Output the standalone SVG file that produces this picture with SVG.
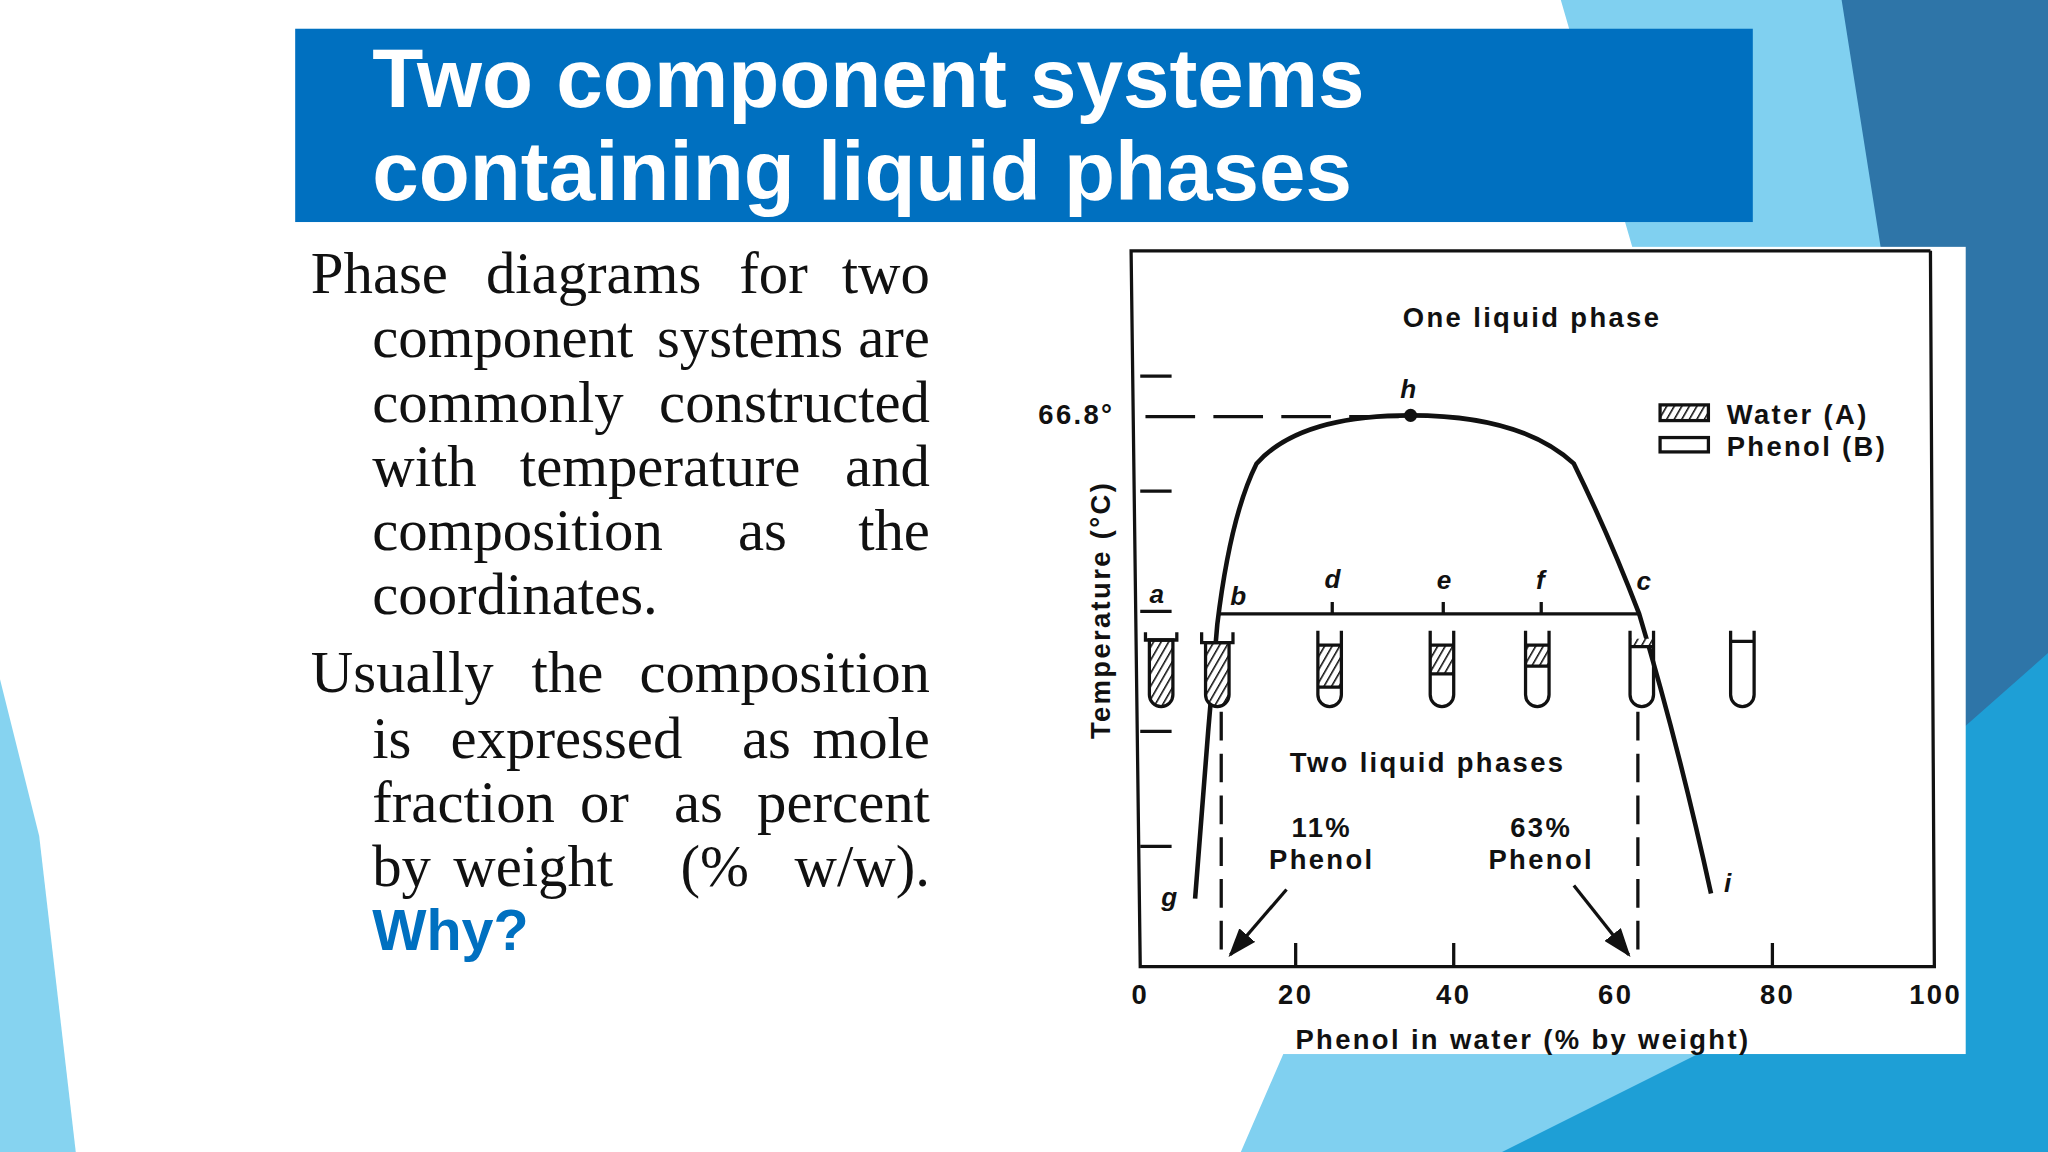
<svg xmlns="http://www.w3.org/2000/svg" width="2048" height="1152" viewBox="0 0 2048 1152">
<defs>
<pattern id="hatch" patternUnits="userSpaceOnUse" width="5" height="5" patternTransform="rotate(30)">
<rect width="5" height="5" fill="#fff"/><line x1="0" y1="0" x2="0" y2="5" stroke="#111" stroke-width="2.4"/>
</pattern>
<marker id="ah" viewBox="0 0 10 10" refX="9" refY="5" markerWidth="22" markerHeight="16" orient="auto" markerUnits="userSpaceOnUse" preserveAspectRatio="none">
<path d="M0,0 L10,5 L0,10 z" fill="#111"/>
</marker>
<style>
.body{font-family:"Liberation Serif",serif;font-size:45px;fill:#111}
.lab{font-family:"Liberation Sans",Arial,sans-serif;font-weight:bold;font-size:21px;fill:#111;letter-spacing:1.8px}
.it{font-family:"Liberation Sans",Arial,sans-serif;font-weight:bold;font-style:italic;font-size:20px;fill:#111}
.ln{stroke:#111;stroke-width:2.5;fill:none}
.tube{stroke:#111;stroke-width:2.5}
</style>
</defs>
<g transform="scale(1.30612)">
<rect width="1568" height="882" fill="#fff"/>
<g id="background">
<polygon points="1195,0 1568,0 1568,882 950,882 1250,190" fill="#80D0F0"/>
<polygon points="1410,0 1568,0 1568,560 1480,620 1440,190" fill="#2E75A8"/>
<polygon points="1500,560 1568,500 1568,882 1150,882 1300,807" fill="#1E9FD6"/>
<polygon points="0,520 30,640 58,882 0,882" fill="#86D3F0"/>
</g>
<g id="title">
<rect x="226" y="22" width="1116" height="148" fill="#0070C0"/>
<text font-family="Liberation Sans,Arial,sans-serif" font-weight="bold" font-size="64" fill="#fff"><tspan x="285" y="82">Two component systems</tspan><tspan x="285" y="153">containing liquid phases</tspan></text>
</g>
<g id="bodytext">
<text class="body"><tspan x="238" y="224">Phase</tspan><tspan x="372" y="224">diagrams</tspan><tspan x="566" y="224">for</tspan><tspan x="712" y="224" text-anchor="end">two</tspan></text>
<text class="body"><tspan x="285" y="273">component</tspan><tspan x="503" y="273">systems</tspan><tspan x="712" y="273" text-anchor="end">are</tspan></text>
<text class="body"><tspan x="285" y="323">commonly</tspan><tspan x="712" y="323" text-anchor="end">constructed</tspan></text>
<text class="body"><tspan x="285" y="372">with</tspan><tspan x="398" y="372">temperature</tspan><tspan x="712" y="372" text-anchor="end">and</tspan></text>
<text class="body"><tspan x="285" y="421">composition</tspan><tspan x="565" y="421">as</tspan><tspan x="712" y="421" text-anchor="end">the</tspan></text>
<text class="body" x="285" y="470">coordinates.</text>
<text class="body"><tspan x="238" y="530">Usually</tspan><tspan x="407" y="530">the</tspan><tspan x="712" y="530" text-anchor="end">composition</tspan></text>
<text class="body"><tspan x="285" y="580">is</tspan><tspan x="345" y="580">expressed</tspan><tspan x="568" y="580">as</tspan><tspan x="712" y="580" text-anchor="end">mole</tspan></text>
<text class="body"><tspan x="285" y="629">fraction</tspan><tspan x="444" y="629">or</tspan><tspan x="516" y="629">as</tspan><tspan x="712" y="629" text-anchor="end">percent</tspan></text>
<text class="body"><tspan x="285" y="678">by</tspan><tspan x="347" y="678">weight</tspan><tspan x="521" y="678">(%</tspan><tspan x="712" y="678" text-anchor="end">w/w).</tspan></text>
<text x="285" y="727" font-family="Liberation Sans,Arial,sans-serif" font-weight="bold" font-size="44" fill="#0070C0">Why?</text>
</g>
<g id="figure">
<rect x="790" y="189" width="715" height="618" fill="#fff"/>
<polyline class="ln" points="1478,192 866,192 873,740 1481,740 1478,192"/>
<path class="ln" d="M873,288H897M873,376H897M873,468H897M873,560H897M873,648H897M992,740V722M1113,740V722M1357,740V722"/>
<line x1="877" y1="319" x2="1078" y2="319" stroke="#111" stroke-width="2.5" stroke-dasharray="38,14"/>
<path d="M915,688 L925,560 L932,478 Q942,395 962,355 Q995,318 1080,318 Q1165,318 1205,355 Q1232,410 1255,470 Q1285,570 1310,684" stroke="#111" stroke-width="3.5" fill="none"/>
<circle cx="1080" cy="318" r="5" fill="#111"/>
<path class="ln" d="M932,470H1255M1020,470V461M1105,470V461M1180,470V461"/>
<path class="ln" stroke-dasharray="22,10" d="M935,545V735M1254,545V735"/>
<line class="ln" x1="985" y1="681" x2="942" y2="731" marker-end="url(#ah)"/>
<line class="ln" x1="1205" y1="678" x2="1247" y2="731" marker-end="url(#ah)"/>
<g id="tubes">
<path class="tube" fill="url(#hatch)" d="M880,490V532a9,9 0 0 0 18,0V490z"/>
<path class="tube" fill="url(#hatch)" d="M923,492V532a9,9 0 0 0 18,0V492z"/>
<rect x="1009" y="494" width="18" height="32" fill="url(#hatch)"/>
<rect x="1095" y="494" width="18" height="22" fill="url(#hatch)"/>
<rect x="1168" y="494" width="18" height="16" fill="url(#hatch)"/>
<rect x="1248" y="489" width="18" height="6" fill="url(#hatch)"/>
<path class="tube" fill="none" d="M1009,494H1027M1009,526H1027M1095,494H1113M1095,516H1113M1168,494H1186M1168,510H1186M1248,495H1266M1325,491H1343"/>
<g fill="none" class="tube">
<path d="M877,484V490H901V484"/>
<path d="M920,484V492H944V484"/>
<path d="M1009,483V532a9,9 0 0 0 18,0V483"/>
<path d="M1095,483V532a9,9 0 0 0 18,0V483"/>
<path d="M1168,483V532a9,9 0 0 0 18,0V483"/>
<path d="M1248,483V532a9,9 0 0 0 18,0V483"/>
<path d="M1325,483V532a9,9 0 0 0 18,0V483"/>
</g>
</g>
<g id="labels">
<text class="lab" x="1173" y="250" text-anchor="middle">One liquid phase</text>
<rect x="1271" y="310" width="37" height="12" fill="url(#hatch)" stroke="#111" stroke-width="2.5"/>
<rect x="1271" y="335" width="37" height="11" fill="#fff" stroke="#111" stroke-width="2.5"/>
<text class="lab" x="1322" y="325">Water (A)</text>
<text class="lab" x="1322" y="349">Phenol (B)</text>
<text class="lab" x="795" y="325">66.8°</text>
<text class="lab" x="1093" y="591" text-anchor="middle">Two liquid phases</text>
<text class="lab" x="1012" y="641" text-anchor="middle">11%</text>
<text class="lab" x="1012" y="665" text-anchor="middle">Phenol</text>
<text class="lab" x="1180" y="641" text-anchor="middle">63%</text>
<text class="lab" x="1180" y="665" text-anchor="middle">Phenol</text>
<text class="lab" x="873" y="769" text-anchor="middle">0</text>
<text class="lab" x="992" y="769" text-anchor="middle">20</text>
<text class="lab" x="1113" y="769" text-anchor="middle">40</text>
<text class="lab" x="1237" y="769" text-anchor="middle">60</text>
<text class="lab" x="1361" y="769" text-anchor="middle">80</text>
<text class="lab" x="1482" y="769" text-anchor="middle">100</text>
<text class="lab" x="1166" y="803" text-anchor="middle" letter-spacing="2.6">Phenol in water (% by weight)</text>
<text class="lab" transform="translate(850,467) rotate(-90)" text-anchor="middle" letter-spacing="0">Temperature (°C)</text>
<text class="it" x="880" y="462">a</text>
<text class="it" x="942" y="463">b</text>
<text class="it" x="1014" y="450">d</text>
<text class="it" x="1100" y="451">e</text>
<text class="it" x="1176" y="451">f</text>
<text class="it" x="1253" y="452">c</text>
<text class="it" x="1072" y="305">h</text>
<text class="it" x="889" y="694">g</text>
<text class="it" x="1320" y="683">i</text>
</g>
</g>
</g>
</svg>
